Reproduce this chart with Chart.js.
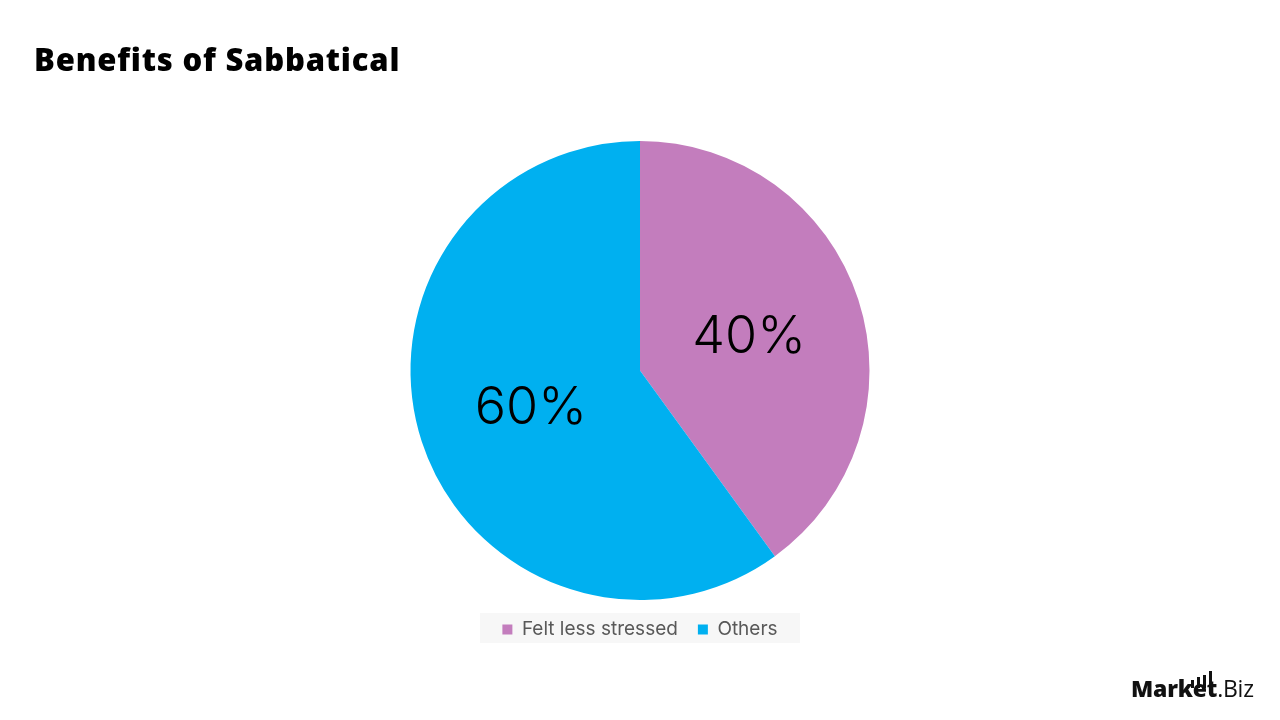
<!DOCTYPE html>
<html>
<head>
<meta charset="utf-8">
<script src="https://cdn.jsdelivr.net/npm/chart.js@4.4.0/dist/chart.umd.min.js"></script>
<style>
  html, body { margin:0; padding:0; background:#fff; width:1280px; height:720px; overflow:hidden; }
  #wrap { position:absolute; left:0; top:0; width:1280px; height:720px; }
  #title { position:absolute; left:34px; top:38px; font-family:"Open Sans","Noto Sans",sans-serif; font-weight:800; font-size:31px; color:#000; letter-spacing:0.8px; }
  #logo { position:absolute; left:1131px; top:672px; font-family:"Open Sans","Noto Sans",sans-serif; color:#111; font-size:23px; letter-spacing:-0.2px; }
  #logo b { font-weight:800; }
  .bar { position:absolute; width:3px; background:#111; }
</style>
</head>
<body>
<div id="wrap">
  <canvas id="c" width="1280" height="720"></canvas>
</div>
<div id="title">Benefits of Sabbatical</div>
<div id="logo"><b>Market</b>.Biz</div>
<div class="bar" style="left:1191px;top:680px;height:8px"></div>
<div class="bar" style="left:1197px;top:677px;height:11px"></div>
<div class="bar" style="left:1203px;top:675px;height:13px"></div>
<div class="bar" style="left:1209px;top:671px;height:17px"></div>
<script>
const categories = ["Felt less stressed", "Others"];
const values = [40, 60];
const colors = ["#C37DBD", "#00B0F0"];
const valueLabels = ["40%", "60%"];

const legendBg = {
  id: 'legendBg',
  beforeDraw(chart) {
    const ctx = chart.ctx;
    ctx.save();
    ctx.fillStyle = '#F7F7F7';
    ctx.fillRect(480, 613, 320, 30);
    ctx.restore();
  }
};

const sliceLabels = {
  id: 'sliceLabels',
  afterDatasetsDraw(chart) {
    const ctx = chart.ctx;
    const meta = chart.getDatasetMeta(0);
    ctx.save();
    ctx.fillStyle = '#000';
    ctx.font = '300 52px "Inter", "Lato", sans-serif';
    ctx.textAlign = 'center';
    ctx.textBaseline = 'middle';
    meta.data.forEach((arc, i) => {
      const p = arc.tooltipPosition();
      ctx.fillText(valueLabels[i], p.x, p.y + 2);
    });
    ctx.restore();
  }
};

new Chart(document.getElementById('c'), {
  type: 'pie',
  data: {
    labels: categories,
    datasets: [{
      data: values,
      backgroundColor: colors,
      borderColor: '#ffffff',
      borderWidth: 0
    }]
  },
  options: {
    responsive: false,
    animation: false,
    devicePixelRatio: 1,
    layout: { padding: { top: 141, bottom: 71, left: 0, right: 0 } },
    plugins: {
      tooltip: { enabled: false },
      legend: {
        position: 'bottom',
        labels: {
          boxWidth: 10,
          boxHeight: 10,
          padding: 20,
          color: '#595959',
          font: { family: '"Inter", "Open Sans", sans-serif', size: 19 }
        }
      }
    }
  },
  plugins: [legendBg, sliceLabels]
});
</script>
</body>
</html>
